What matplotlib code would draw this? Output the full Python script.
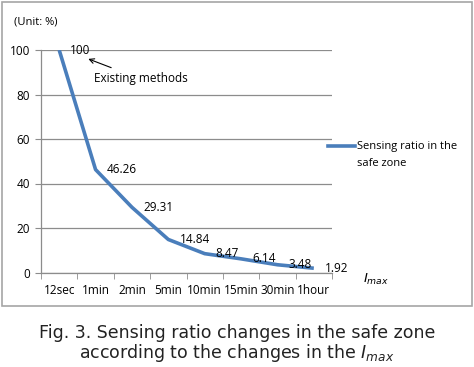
import numpy as np
import matplotlib
matplotlib.use("Agg")
import matplotlib.pyplot as plt
from matplotlib.patches import Rectangle

# data
categories = ["12sec", "1min", "2min", "5min", "10min", "15min", "30min", "1hour"]
ratio = [100, 46.26, 29.31, 14.84, 8.47, 6.14, 3.48, 1.92]
yticks = [0, 20, 40, 60, 80, 100]

W, H = 474, 367
LINE = "#4a7ebb"
GRID = "#8c8c8c"
FONT = "Open Sans"

fig = plt.figure(figsize=(W / 100, H / 100), dpi=100)


def fx(px):
    return px / W


def fy(py):
    return 1 - py / H


# outer chart border
fig.patches.append(Rectangle((fx(2), fy(306)), fx(470), 304 / H,
                             transform=fig.transFigure, fill=False,
                             edgecolor="#a6a6a6", lw=1.2))

ax = fig.add_axes([fx(41), fy(272.5), fx(291), (272.5 - 50) / H])
x = np.arange(len(categories))
ax.plot(x, ratio, color=LINE, lw=2.6, solid_capstyle="butt")

ax.set_xlim(-0.5, len(categories) - 0.5)
ax.set_ylim(0, 100)
ax.set_yticks(yticks)
ax.set_yticklabels([str(v) for v in yticks], fontsize=8.5, family=FONT)
ax.yaxis.grid(True, color=GRID, lw=0.9)
ax.set_axisbelow(True)
ax.tick_params(axis="y", length=4, color=GRID, pad=4)

ax.set_xticks(x)
ax.set_xticklabels(categories, fontsize=8.5, family=FONT)
ax.set_xticks(np.arange(-0.5, len(categories)), minor=True)
ax.tick_params(axis="x", which="major", length=0, pad=8)
ax.tick_params(axis="x", which="minor", length=4, color=GRID)
for s in ["top", "right"]:
    ax.spines[s].set_visible(False)
for s in ["left", "bottom"]:
    ax.spines[s].set_color(GRID)
    ax.spines[s].set_linewidth(0.9)

# data labels to the right of each point
for xi, v in zip(x, ratio):
    ax.annotate(f"{v:g}", (xi, v), xytext=(8, 0), textcoords="offset points",
                ha="left", va="center", fontsize=8.5, family=FONT)

ax.annotate("Existing methods", xy=(0.8, 96), xytext=(0.95, 87),
            ha="left", va="center", fontsize=8.5, family=FONT,
            arrowprops=dict(arrowstyle="->", color="black", lw=0.8,
                            shrinkA=4, shrinkB=0))

# legend drawn by hand like the Excel one
fig.add_artist(plt.Line2D([fx(328), fx(355)], [fy(146), fy(146)],
                          color=LINE, lw=2.6))
fig.text(fx(357), fy(146), "Sensing ratio in the", fontsize=8, family=FONT,
         va="center")
fig.text(fx(357), fy(163), "safe zone", fontsize=8, family=FONT, va="center")

fig.text(fx(14), fy(22), "(Unit: %)", fontsize=8, family=FONT, va="center")
fig.text(fx(363), fy(279), r"$I_{max}$", fontsize=9.5, va="center")

# caption
fig.text(0.5, fy(333), "Fig. 3. Sensing ratio changes in the safe zone",
         ha="center", va="center", fontsize=12.5, family="DejaVu Sans",
         color="#222222")
fig.text(0.5, fy(353), r"according to the changes in the $I_{max}$",
         ha="center", va="center", fontsize=12.5, family="DejaVu Sans",
         color="#222222")

fig.savefig("out.png", dpi=100)
